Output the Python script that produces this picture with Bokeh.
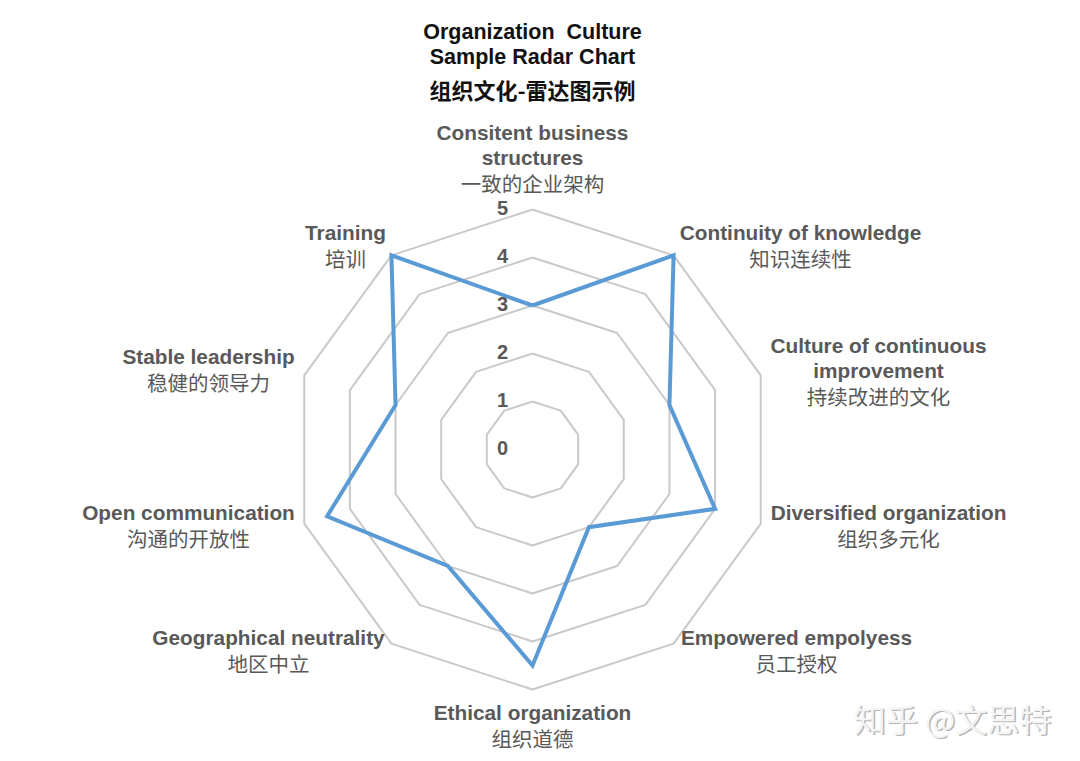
import math
from bokeh.plotting import figure
from bokeh.models import Range1d
from bokeh.core.properties import value
from bokeh.embed import file_html
from bokeh.resources import INLINE

# ---- data ----
categories_en = [
    ["Consitent business", "structures"],
    ["Continuity of knowledge"],
    ["Culture of continuous", "improvement"],
    ["Diversified organization"],
    ["Empowered empolyess"],
    ["Ethical organization"],
    ["Geographical neutrality"],
    ["Open communication"],
    ["Stable leadership"],
    ["Training"],
]
categories_zh = ["一致的企业架构", "知识连续性", "持续改进的文化", "组织多元化", "员工授权",
                 "组织道德", "地区中立", "沟通的开放性", "稳健的领导力", "培训"]
scores = [3, 5, 3, 4, 2, 4.5, 3, 4.5, 3, 5]
ticks = [0, 1, 2, 3, 4, 5]
title_lines = ["Organization\u00a0 Culture", "Sample Radar Chart"]
title_zh = "组织文化-雷达图示例"
watermark = "知乎 @文思特"

# ---- layout (pixel-like units, centre of radar at origin) ----
UNIT = 48.0
CX, CY = 532, 449
W, H = 1072, 753

p = figure(width=W, height=H, output_backend="svg", toolbar_location=None,
           x_range=Range1d(-CX, W - CX), y_range=Range1d(CY - H, CY),
           min_border=0, outline_line_color=None, background_fill_color="white")
p.axis.visible = False
p.grid.visible = False

n = len(scores)
angles = [2 * math.pi * i / n for i in range(n)]

def pt(r, a):
    return r * math.sin(a), r * math.cos(a)

# rings
for t in ticks[1:]:
    xs = [pt(t * UNIT, a)[0] for a in angles] + [pt(t * UNIT, angles[0])[0]]
    ys = [pt(t * UNIT, a)[1] for a in angles] + [pt(t * UNIT, angles[0])[1]]
    p.line(xs, ys, line_color="#c9c9c9", line_width=2)

# data series
dx = [pt(v * UNIT, a)[0] for v, a in zip(scores, angles)]
dy = [pt(v * UNIT, a)[1] for v, a in zip(scores, angles)]
p.line(dx + dx[:1], dy + dy[:1], line_color="#5b9bd5", line_width=4, line_join="miter")

# tick labels
p.text(x=[-30] * len(ticks), y=[t * UNIT + 2 for t in ticks], text=[str(t) for t in ticks],
       text_font=value("Liberation Sans"), text_font_style="bold", text_font_size="20px",
       text_color="#595959", text_align="center", text_baseline="middle")

# category label anchors (pixel centres of the first line in reference)
label_pos = [(532, 132), (800, 232), (878, 345), (888, 512), (796, 637),
             (532, 712), (268, 637), (188, 512), (208, 356), (345, 232)]
LINE = 24.5
ex, ey, et, zx, zy, zt = [], [], [], [], [], []
for (lx, ly), en, zh in zip(label_pos, categories_en, categories_zh):
    for k, line in enumerate(en):
        ex.append(lx - CX); ey.append(CY - (ly + k * LINE)); et.append(line)
    zx.append(lx - CX); zy.append(CY - (ly + len(en) * LINE + 1)); zt.append(zh)
p.text(x=ex, y=ey, text=et, text_font=value("Liberation Sans"), text_font_style="bold",
       text_font_size="20.8px", text_color="#595959", text_align="center", text_baseline="middle")
p.text(x=zx, y=zy, text=zt, text_font=value("Noto Sans CJK SC"), text_font_style="normal",
       text_font_size="20.5px", text_color="#595959", text_align="center", text_baseline="middle")

# title
p.text(x=[0, 0], y=[CY - 31, CY - 56], text=title_lines, text_font=value("Liberation Sans"),
       text_font_style="bold", text_font_size="21.5px", text_color="#111111",
       text_align="center", text_baseline="middle")
p.text(x=[0], y=[CY - 88], text=[title_zh], text_font=value("Noto Sans CJK SC"),
       text_font_style="bold", text_font_size="22px", text_color="#111111",
       text_align="center", text_baseline="middle")

# watermark
p.text(x=[952 - CX + 1.5], y=[CY - 717 - 1.5], text=[watermark], text_font=value("Noto Sans CJK SC"),
       text_font_size="32px", text_color="#b5b5b5", text_align="center", text_baseline="middle")
p.text(x=[952 - CX], y=[CY - 717], text=[watermark], text_font=value("Noto Sans CJK SC"),
       text_font_size="32px", text_color="#f4f4f4", text_align="center", text_baseline="middle")

open("out.html", "w").write(file_html(p, INLINE))
